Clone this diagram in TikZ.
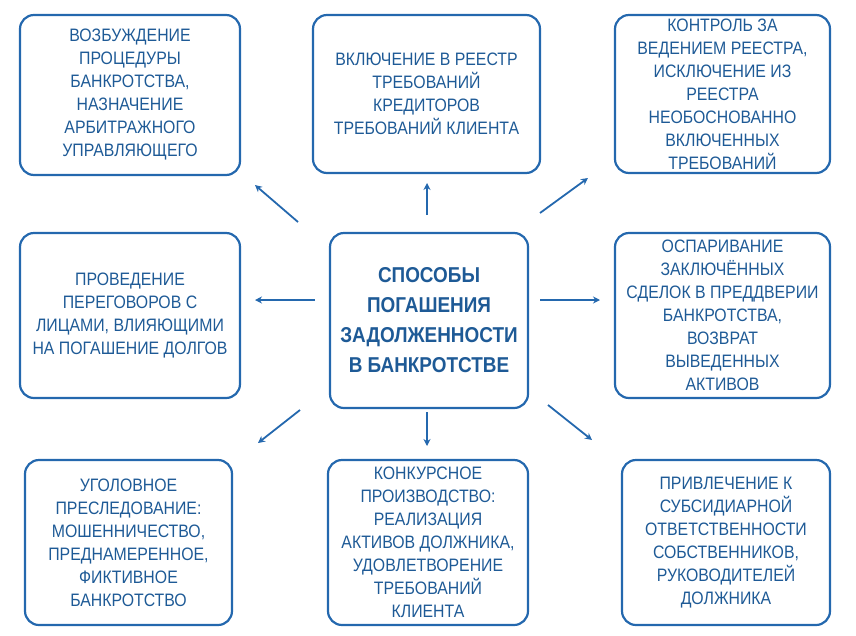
\documentclass[tikz,border=0pt]{standalone}
\usetikzlibrary{arrows.meta}
\usepackage{fontspec}
\setmainfont{Liberation Sans}[FakeStretch=0.88]
\definecolor{bord}{HTML}{2468AE}
\definecolor{txt}{HTML}{1E5A96}
\begin{document}
\begin{tikzpicture}[x=1pt,y=-1pt,
  box/.style={draw=bord,line width=2.2pt,rounded corners=14pt,text=txt,align=center,
    font=\fontsize{18}{23}\selectfont,inner sep=0pt},
  arr/.style={draw=bord,line width=1.8pt,-{Stealth[length=7pt,width=7pt]}}]
\useasboundingbox (0,0) rectangle (856,635);
\newcommand{\bx}[6]{\node[box,minimum width=#4-#2,minimum height=#5-#3] (#1) at ({(#2+#4)/2},{(#3+#5)/2}) {#6};}
\bx{tl}{20}{15}{240}{175}{ВОЗБУЖДЕНИЕ\\ПРОЦЕДУРЫ\\БАНКРОТСТВА,\\НАЗНАЧЕНИЕ\\АРБИТРАЖНОГО\\УПРАВЛЯЮЩЕГО}
\bx{tc}{313}{15}{540}{173}{ВКЛЮЧЕНИЕ В РЕЕСТР\\ТРЕБОВАНИЙ\\КРЕДИТОРОВ\\ТРЕБОВАНИЙ КЛИЕНТА}
\bx{tr}{615}{15}{830}{173}{КОНТРОЛЬ ЗА\\ВЕДЕНИЕМ РЕЕСТРА,\\ИСКЛЮЧЕНИЕ ИЗ\\РЕЕСТРА\\НЕОБОСНОВАННО\\ВКЛЮЧЕННЫХ\\ТРЕБОВАНИЙ}
\bx{ml}{20}{233}{240}{398}{ПРОВЕДЕНИЕ\\ПЕРЕГОВОРОВ С\\ЛИЦАМИ, ВЛИЯЮЩИМИ\\НА ПОГАШЕНИЕ ДОЛГОВ}
\node[box,minimum width=198,minimum height=175,font=\bfseries\fontsize{21.5}{30}\selectfont] (c) at (429,320.5) {СПОСОБЫ\\ПОГАШЕНИЯ\\ЗАДОЛЖЕННОСТИ\\В БАНКРОТСТВЕ};
\bx{mr}{615}{233}{830}{398}{ОСПАРИВАНИЕ\\ЗАКЛЮЧЁННЫХ\\СДЕЛОК В ПРЕДДВЕРИИ\\БАНКРОТСТВА,\\ВОЗВРАТ\\ВЫВЕДЕННЫХ\\АКТИВОВ}
\bx{bl}{25}{460}{232}{625}{УГОЛОВНОЕ\\ПРЕСЛЕДОВАНИЕ:\\МОШЕННИЧЕСТВО,\\ПРЕДНАМЕРЕННОЕ,\\ФИКТИВНОЕ\\БАНКРОТСТВО}
\bx{bc}{328}{460}{528}{625}{КОНКУРСНОЕ\\ПРОИЗВОДСТВО:\\РЕАЛИЗАЦИЯ\\АКТИВОВ ДОЛЖНИКА,\\УДОВЛЕТВОРЕНИЕ\\ТРЕБОВАНИЙ\\КЛИЕНТА}
\bx{br}{622}{460}{830}{625}{ПРИВЛЕЧЕНИЕ К\\СУБСИДИАРНОЙ\\ОТВЕТСТВЕННОСТИ\\СОБСТВЕННИКОВ,\\РУКОВОДИТЕЛЕЙ\\ДОЛЖНИКА}
\foreach \n/\a/\b/\cc/\d in {a1/298/222/255/185, a2/427/215/427/183, a3/540/213/588/178,
  a4/315/300/255/300, a5/540/300/600/300, a6/300/410/258/443, a7/427/412/427/446, a8/548/405/592/440}{
  \coordinate (\n s) at (\a,\b); \coordinate (\n e) at (\cc,\d);
  \draw[arr] (\n s) -- (\n e);}
\end{tikzpicture}
\end{document}
